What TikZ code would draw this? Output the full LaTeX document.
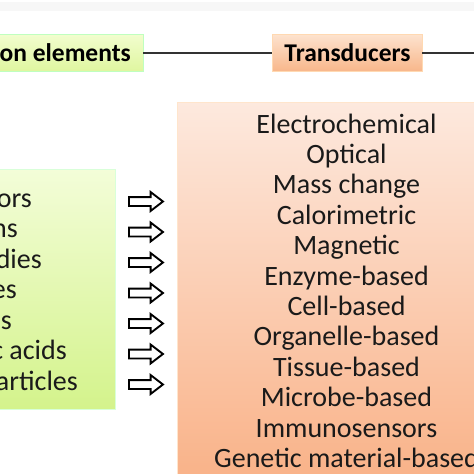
\documentclass[tikz,border=0pt]{standalone}
\usepackage{fontspec}
\setmainfont{Carlito}
\usetikzlibrary{shapes.arrows}
\definecolor{txt}{HTML}{1A1A1A}
\definecolor{grTop}{HTML}{F3FDD8}
\definecolor{grBot}{HTML}{D4F38C}
\definecolor{orTop}{HTML}{FDE9DE}
\definecolor{orBot}{HTML}{F9B288}
\definecolor{hgTop}{HTML}{F2FDCE}
\definecolor{hgBot}{HTML}{DFF6A0}
\definecolor{hoTop}{HTML}{FDE3CF}
\definecolor{hoBot}{HTML}{F8B78B}
\tikzset{
  listtxt/.style={font=\fontsize{28}{28}\selectfont, text=txt, inner sep=0pt},
  headtxt/.style={font=\fontsize{25.5}{25.5}\selectfont\bfseries, text=black, inner sep=0pt},
  fatarrow/.style={single arrow, draw=black, fill=white, line width=1.9pt,
    minimum width=17pt, minimum height=34pt, inner sep=3.5pt,
    single arrow head extend=5pt, single arrow tip angle=75, anchor=west},
  link/.style={draw=black!80, line width=2pt}
}
\begin{document}
\begin{tikzpicture}[x=1pt,y=-1pt]
\useasboundingbox (0,0) rectangle (474,474);
\clip (0,0) rectangle (474,474);
% faint top band
\fill[black!3] (0,2) rectangle (474,11);
% header boxes
\shade[top color=hgTop, bottom color=hgBot, draw=green!25!white] (-5,34) rectangle (143,71);
\shade[top color=hoTop, bottom color=hoBot, draw=orange!30!white] (272,34) rectangle (422,71);
\node[anchor=center, minimum width=148pt, minimum height=37pt, inner sep=0pt] (hg) at (69,52.5) {};
\node[anchor=center, minimum width=150pt, minimum height=37pt, inner sep=0pt] (ho) at (347,52.5) {};
\node[headtxt, anchor=base east] (hgt) at (131,61.5) {on elements};
\node[headtxt, anchor=base] (hot) at (347.5,61.5) {Transducers};
\coordinate (rend) at (474,52.5);
\draw[link] (hg.east) -- (ho.west);
\draw[link] (ho.east) -- (rend);
% big boxes
\shade[top color=grTop, bottom color=grBot, draw=green!15!white] (-5,169) rectangle (115,409);
\shade[top color=orTop, bottom color=orBot, draw=orange!20!white] (177,102) rectangle (480,480);
% left fragments
\node[listtxt, anchor=base east] (l1) at (32,207) {ors};
\node[listtxt, anchor=base east] (l2) at (18,237.5) {ns};
\node[listtxt, anchor=base east] (l3) at (42,268) {dies};
\node[listtxt, anchor=base east] (l4) at (17,298.5) {es};
\node[listtxt, anchor=base east] (l5) at (12,329) {s};
\node[listtxt, anchor=base east] (l6) at (67,359.5) {c acids};
\node[listtxt, anchor=base east] (l7) at (78,390) {articles};
% arrows
\node[fatarrow] (a1) at (128,201.5) {};
\node[fatarrow] (a2) at (128,232) {};
\node[fatarrow] (a3) at (128,262.5) {};
\node[fatarrow] (a4) at (128,293) {};
\node[fatarrow] (a5) at (128,323.5) {};
\node[fatarrow] (a6) at (128,354) {};
\node[fatarrow] (a7) at (128,384.5) {};
% transducer list
\node[listtxt, anchor=base] (t1) at (346.5,133) {Electrochemical};
\node[listtxt, anchor=base] (t2) at (346.5,163.4) {Optical};
\node[listtxt, anchor=base] (t3) at (346.5,193.8) {Mass change};
\node[listtxt, anchor=base] (t4) at (346.5,224.2) {Calorimetric};
\node[listtxt, anchor=base] (t5) at (346.5,254.6) {Magnetic};
\node[listtxt, anchor=base] (t6) at (346.5,285) {Enzyme-based};
\node[listtxt, anchor=base] (t7) at (346.5,315.4) {Cell-based};
\node[listtxt, anchor=base] (t8) at (346.5,345.8) {Organelle-based};
\node[listtxt, anchor=base] (t9) at (346.5,376.2) {Tissue-based};
\node[listtxt, anchor=base] (t10) at (346.5,406.6) {Microbe-based};
\node[listtxt, anchor=base] (t11) at (346.5,437) {Immunosensors};
\node[listtxt, anchor=base] (t12) at (346.5,467.4) {Genetic material-based};
\end{tikzpicture}
\end{document}
